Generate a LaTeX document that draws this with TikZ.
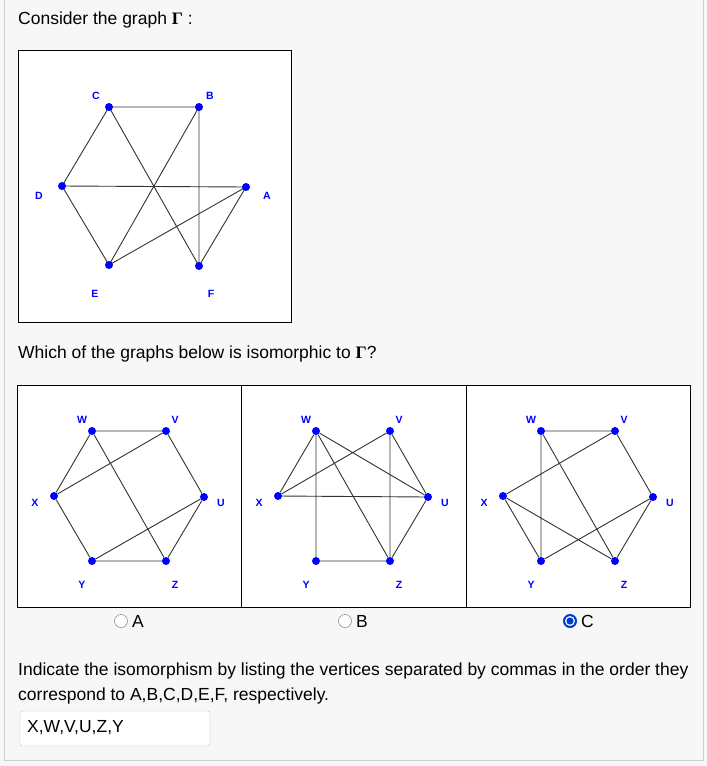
\documentclass[tikz,border=0pt]{standalone}
\usepackage{fontspec}
\setmainfont{Liberation Sans}
\newfontfamily\gserif{Liberation Serif}
\begin{document}
\begin{tikzpicture}[x=1pt,y=-1pt,
  vtx/.style={circle,inner sep=0pt,minimum size=8pt},
  lbl/.style={text=blue,font=\fontsize{10.5}{10}\selectfont\bfseries},
  edge/.style={draw=black!80,line width=0.9pt},
  txt/.style={anchor=west,inner sep=0pt,font=\fontsize{17.5}{21}\selectfont},
  gbox/.style={draw=black,line width=1pt,fill=white}]
\useasboundingbox (0,0) rectangle (707,766);
\fill[black!3] (0,0) rectangle (707,766);
\draw[black!20] (4,0) -- (4,760) -- (703,760) -- (703,0);
\node[txt] (t1) at (18,20) {Consider the graph {\gserif\bfseries Γ} :};
\node[txt] (t2) at (18,354) {Which of the graphs below is isomorphic to {\gserif\bfseries Γ}?};
\node[txt] (t3) at (18,671) {Indicate the isomorphism by listing the vertices separated by commas in the order they};
\node[txt] (t4) at (18,696) {correspond to A,B,C,D,E,F, respectively.};
\draw[black!25,fill=white,rounded corners=2pt] (20,711) rectangle (210,746);
\node[txt] (ans) at (27,728) {X,W,V,U,Z,Y};
% main graph
\draw[gbox] (18,50) rectangle (291,322);
\node[vtx] (C) at (109,107) {}; \node[vtx] (B) at (199,107) {};
\node[vtx] (D) at (62,186) {}; \node[vtx] (A) at (246,187) {};
\node[vtx] (E) at (109,265) {}; \node[vtx] (F) at (199,266) {};
\node[lbl] at (96,96) {C}; \node[lbl] at (210,96) {B};
\node[lbl] at (39,196) {D}; \node[lbl] at (267,196) {A};
\node[lbl] at (95,294) {E}; \node[lbl] at (211,294) {F};
\draw[edge] (C.center)--(B.center) (C.center)--(D.center) (C.center)--(F.center) (B.center)--(F.center) (B.center)--(E.center) (D.center)--(A.center) (D.center)--(E.center) (E.center)--(A.center) (A.center)--(F.center);
% option boxes
\draw[gbox] (17,385) rectangle (690,607);
\draw[black,line width=1pt] (241,385) -- (241,607) (466,385) -- (466,607);
\foreach \o/\p in {0/a,224/b,449/c}{
  \node[vtx] (W\p) at (92+\o,431) {}; \node[vtx] (V\p) at (166+\o,431) {};
  \node[vtx] (X\p) at (54+\o,496) {}; \node[vtx] (U\p) at (204+\o,497) {};
  \node[vtx] (Y\p) at (92+\o,561) {}; \node[vtx] (Z\p) at (166+\o,561) {};
  \node[lbl] at (82+\o,420) {W}; \node[lbl] at (175+\o,420) {V};
  \node[lbl] at (35+\o,503) {X}; \node[lbl] at (221+\o,503) {U};
  \node[lbl] at (82+\o,585) {Y}; \node[lbl] at (175+\o,585) {Z};
}
\draw[edge] (Wa)--(Va) (Wa)--(Xa) (Wa)--(Za) (Va)--(Xa) (Va)--(Ua) (Xa)--(Ya) (Ya)--(Ua) (Ya)--(Za) (Ua)--(Za);
\draw[edge] (Wb)--(Xb) (Wb)--(Yb) (Wb)--(Ub) (Wb)--(Zb) (Vb)--(Xb) (Vb)--(Zb) (Vb)--(Ub) (Xb)--(Ub) (Yb)--(Zb) (Ub)--(Zb);
\draw[edge] (Wc)--(Vc) (Wc)--(Yc) (Wc)--(Zc) (Vc)--(Xc) (Vc)--(Uc) (Xc)--(Yc) (Xc)--(Zc) (Yc)--(Uc) (Uc)--(Zc);
\foreach \w in {Wa,Va,Xa,Ua,Ya,Za,Wb,Vb,Xb,Ub,Yb,Zb,Wc,Vc,Xc,Uc,Yc,Zc,A,B,C,D,E,F} \fill[blue] (\w) circle (4pt);
% radio buttons
\draw[black!60,fill=white] (121,621) circle (6.5pt);
\node[txt] (ra) at (132,621) {A};
\draw[black!60,fill=white] (345,621) circle (6.5pt);
\node[txt] (rb) at (356,621) {B};
\fill[blue!70!cyan!80!black] (570,621) circle (7pt);
\fill[white] (570,621) circle (5pt);
\fill[blue!70!cyan!80!black] (570,621) circle (3.6pt);
\node[txt] (rc) at (581,621) {C};
\end{tikzpicture}
\end{document}
